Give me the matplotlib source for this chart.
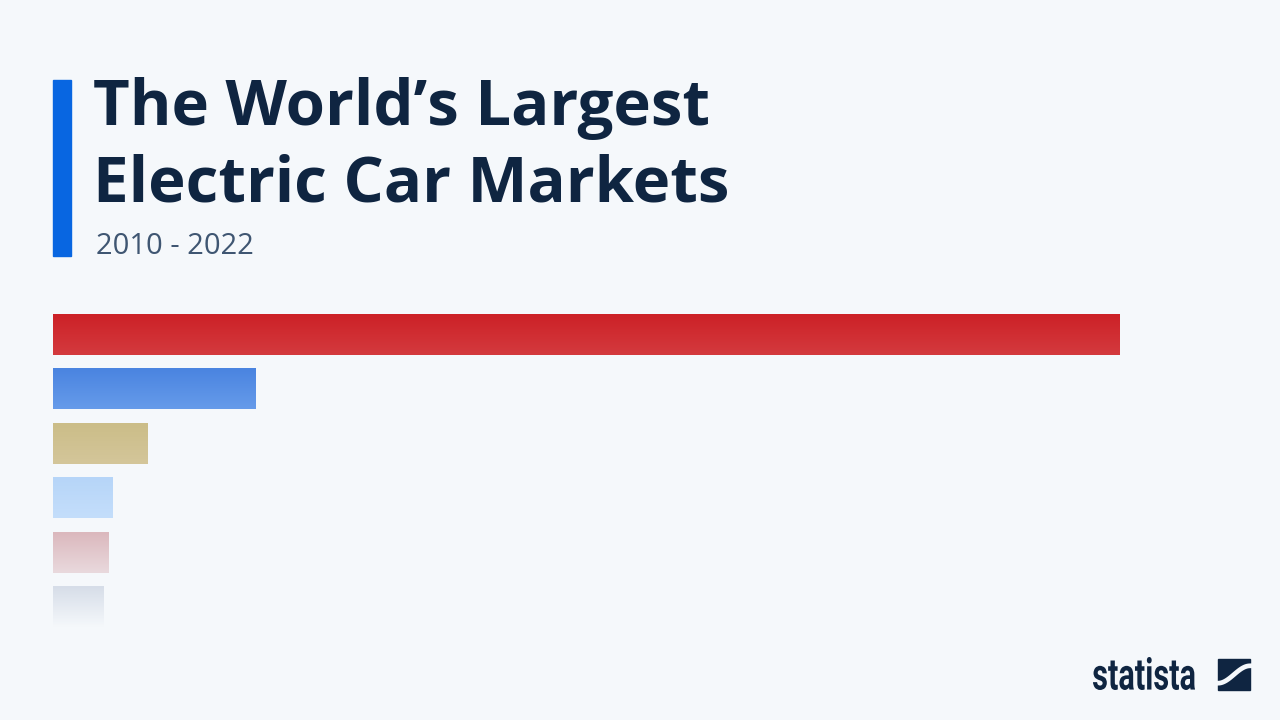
import matplotlib
matplotlib.use("Agg")
import matplotlib.pyplot as plt
import numpy as np
from matplotlib.colors import LinearSegmentedColormap, to_rgba
from matplotlib.patches import Rectangle, PathPatch
from matplotlib.textpath import TextPath
from matplotlib.font_manager import FontProperties
from matplotlib.transforms import Affine2D

# ---- data ----
categories = ["Market 1", "Market 2", "Market 3", "Market 4", "Market 5", "Market 6"]
values = [1067, 203, 95, 60, 56, 51]
top_colors = ["#cc2127", "#4a84e0", "#cbbd88", "#b6d5f8", "#dbb8bd", "#d6dde8"]
bottom_colors = ["#d43a3e", "#669bea", "#d4c69a", "#c4defb", "#e9d9dd", "#f5f8fb"]
title_lines = ["The World\u2019s Largest", "Electric Car Markets"]
subtitle = "2010 - 2022"

BG = "#f5f8fb"
NAVY = "#0f2541"

fig = plt.figure(figsize=(12.8, 7.2), dpi=100, facecolor=BG)

W, H = 1280, 720
def fx(px): return px / W
def fy(py): return 1 - py / H

# accent bar
fig.patches.append(Rectangle((fx(53), fy(256)), fx(71) - fx(53), fy(80) - fy(256),
                             transform=fig.transFigure, color="#0866e1", zorder=1))
fig.text(fx(93), fy(125), title_lines[0], fontfamily="Open Sans", fontweight="bold",
         fontsize=45.7, color=NAVY, va="baseline", ha="left")
fig.text(fx(93), fy(202), title_lines[1], fontfamily="Open Sans", fontweight="bold",
         fontsize=45.7, color=NAVY, va="baseline", ha="left")
fig.text(fx(96), fy(254), subtitle, fontfamily=["Open Sans", "DejaVu Sans"], fontsize=21,
         color="#3f5672", va="baseline", ha="left")

# bars
ax = fig.add_axes([fx(53), fy(627), fx(1120) - fx(53), fy(314) - fy(627)])
ax.set_facecolor(BG)
ypos = np.arange(len(values))
bars = ax.barh(ypos, values, height=0.75, color="none", edgecolor="none")
ax.axis("off")

for b, c0, c1 in zip(bars, top_colors, bottom_colors):
    x0, y0 = b.get_x(), b.get_y()
    w, h = b.get_width(), b.get_height()
    cmap = LinearSegmentedColormap.from_list("g", [to_rgba(c0), to_rgba(c1)])
    grad = np.linspace(0, 1, 100).reshape(-1, 1)
    im = ax.imshow(grad, cmap=cmap, aspect="auto", extent=(x0, x0 + w, y0 + h, y0),
                   origin="upper", zorder=2, interpolation="bilinear")
    im.set_clip_path(b)

ax.set_xlim(0, max(values))
ax.set_ylim(len(values) - 1 + 0.375, -0.375)

# logo text, fitted into its box in pixel coordinates
tp = TextPath((0, 0), "statista", size=40, prop=FontProperties(family="Roboto", weight="bold"))
bb = tp.get_extents()
bx0, bx1, by_top, by_bot = 1093, 1195, 657, 690
sxs = (bx1 - bx0) / bb.width
sys_ = (by_bot - by_top) / bb.height
tr = Affine2D().translate(-bb.x0, -bb.y0).scale(sxs, sys_).translate(bx0, H - by_bot)
logo = PathPatch(tr.transform_path(tp), facecolor=NAVY, edgecolor="none",
                 transform=None, zorder=5)
fig.patches.append(logo)

lx0, lx1, ly0, ly1 = fx(1218), fx(1250), fy(690), fy(659)
fig.patches.append(Rectangle((lx0, ly0), lx1 - lx0, ly1 - ly0, transform=fig.transFigure,
                             color=NAVY, zorder=3))
t = np.linspace(0, 1, 40)
sx = lx0 + (lx1 - lx0) * t
sy = ly0 + (ly1 - ly0) * (0.22 + 0.56 * (0.5 - 0.5 * np.cos(np.pi * t)))
fig.lines.append(plt.Line2D(sx, sy, transform=fig.transFigure, color=BG, lw=3.4, zorder=4))

fig.savefig("out.png", dpi=100, facecolor=BG)
